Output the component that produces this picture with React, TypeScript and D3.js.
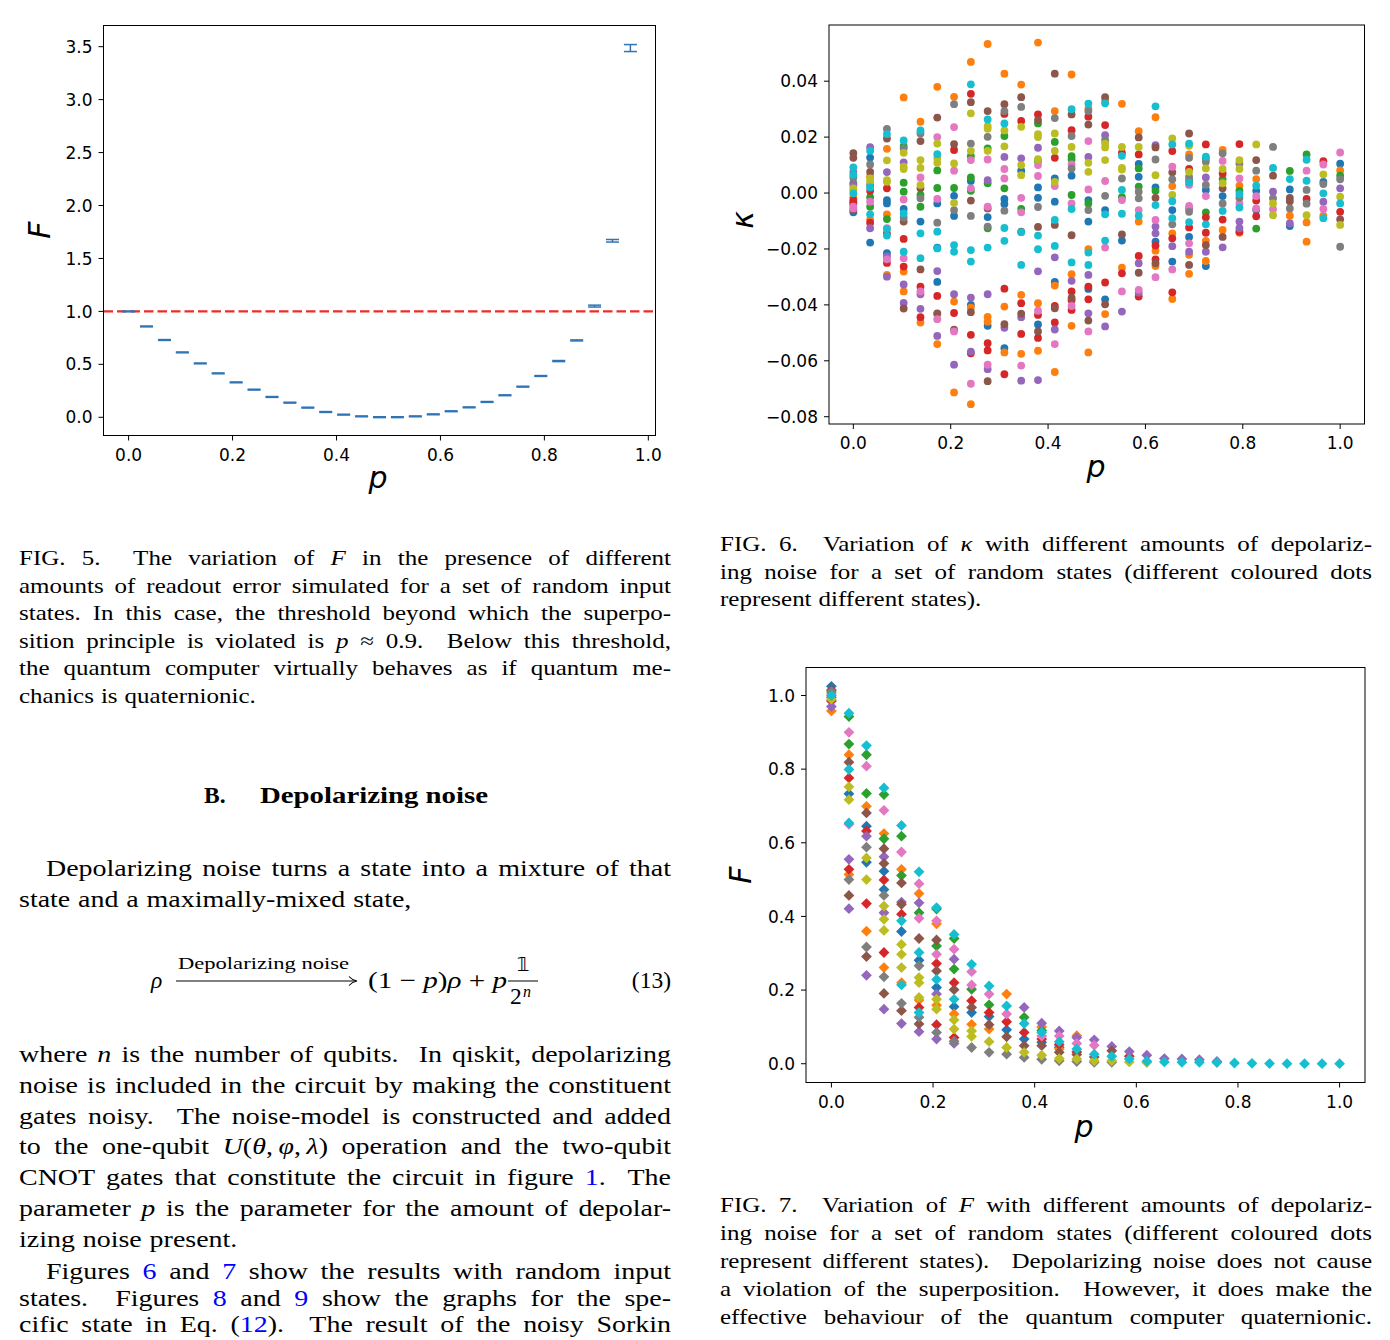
import React, { useMemo } from 'react';
import * as d3 from 'd3';

// ---------- DATA ----------
const P_GRID = [0, 0.0345, 0.069, 0.1034, 0.1379, 0.1724, 0.2069, 0.2414, 0.2759, 0.3103, 0.3448, 0.3793, 0.4138, 0.4483, 0.4828, 0.5172, 0.5517, 0.5862, 0.6207, 0.6552, 0.6897, 0.7241, 0.7586, 0.7931, 0.8276, 0.8621, 0.8966, 0.931, 0.9655, 1.0];

const READOUT_F = [1.0, 0.858, 0.73, 0.613, 0.509, 0.415, 0.33, 0.261, 0.192, 0.138, 0.091, 0.05, 0.025, 0.009, 0.001, 0.001, 0.009, 0.028, 0.057, 0.094, 0.145, 0.208, 0.289, 0.39, 0.531, 0.726, 1.05, 1.667, 3.487];
const READOUT_ERR = [0.004, 0.004, 0.004, 0.004, 0.004, 0.004, 0.004, 0.004, 0.004, 0.004, 0.004, 0.004, 0.004, 0.004, 0.004, 0.004, 0.004, 0.004, 0.004, 0.004, 0.004, 0.004, 0.004, 0.004, 0.005, 0.005, 0.009, 0.012, 0.033];

const X_TICKS = [0, 0.2, 0.4, 0.6, 0.8, 1.0];
const F5_Y_TICKS = [0, 0.5, 1.0, 1.5, 2.0, 2.5, 3.0, 3.5];
const KAPPA_TICKS = [-0.08, -0.06, -0.04, -0.02, 0, 0.02, 0.04];
const F7_Y_TICKS = [0, 0.2, 0.4, 0.6, 0.8, 1.0];

const TAB10: Record<string, string> = {
  b: '#1f77b4', o: '#ff7f0e', g: '#2ca02c', r: '#d62728', p: '#9467bd',
  n: '#8c564b', k: '#e377c2', y: '#7f7f7f', l: '#bcbd22', c: '#17becf',
};
const COLOR_ORDER = 'bogrpnkylc';

type Pt = [string, number];
const KAPPA_COLS: Pt[][] = [
  [['n', .0143], ['n', .0126], ['c', .0092], ['p', .0075], ['c', .0065], ['y', .0055], ['g', .0035], ['p', .0029], ['l', .0017], ['l', .0010], ['c', -.0001], ['o', -.0015], ['r', -.0025], ['r', -.0033], ['b', -.0040], ['k', -.0049], ['k', -.0055], ['n', -.0061], ['b', -.0069]],
  [['p', .0164], ['c', .0151], ['b', .0127], ['y', .0102], ['n', .0076], ['o', .0060], ['l', .0052], ['l', .0040], ['b', .0029], ['c', .0020], ['r', .0008], ['g', -.0015], ['k', -.0031], ['g', -.0049], ['c', -.0076], ['o', -.0095], ['r', -.0106], ['p', -.0126], ['b', -.0177]],
  [['y', .0229], ['c', .0211], ['n', .0195], ['o', .0158], ['l', .0117], ['p', .0075], ['l', .0046], ['l', .0040], ['r', .0017], ['b', -.0025], ['b', -.0037], ['o', -.0076], ['g', -.0093], ['k', -.0126], ['c', -.0128], ['r', -.0144], ['c', -.0152], ['b', -.0215], ['p', -.0227], ['k', -.0237], ['r', -.0250], ['o', -.0293], ['p', -.0299]],
  [['o', .0342], ['c', .0188], ['g', .0168], ['y', .0160], ['l', .0144], ['p', .0110], ['l', .0094], ['l', .0086], ['g', .0037], ['g', .0005], ['k', -.0023], ['b', -.0057], ['c', -.0073], ['y', -.0088], ['n', -.0102], ['r', -.0164], ['c', -.0210], ['k', -.0233], ['r', -.0263], ['o', -.0281], ['p', -.0327], ['o', -.0352], ['p', -.0393], ['n', -.0413]],
  [['o', .0255], ['c', .0224], ['y', .0213], ['n', .0186], ['l', .0118], ['l', .0090], ['k', .0056], ['l', .0029], ['n', .0017], ['y', -.0019], ['g', -.0007], ['g', -.0049], ['b', -.0102], ['c', -.0144], ['c', -.0233], ['n', -.0273], ['r', -.0335], ['k', -.0352], ['p', -.0362], ['p', -.0414], ['r', -.0444], ['o', -.0463]],
  [['o', .0380], ['n', .0270], ['k', .0200], ['l', .0177], ['c', .0139], ['l', .0124], ['l', .0108], ['g', .0081], ['g', .0018], ['k', -.0021], ['b', -.0037], ['y', -.0106], ['c', -.0138], ['b', -.0195], ['c', -.0198], ['p', -.0279], ['b', -.0318], ['r', -.0368], ['n', -.0430], ['o', -.0433], ['k', -.0451], ['p', -.0511], ['o', -.0540]],
  [['o', .0344], ['y', .0318], ['k', .0236], ['n', .0175], ['r', .0154], ['l', .0106], ['k', .0080], ['g', .0018], ['b', -.0010], ['l', -.0035], ['y', -.0061], ['b', -.0082], ['c', -.0186], ['c', -.0210], ['p', -.0362], ['o', -.0388], ['r', -.0429], ['n', -.0489], ['k', -.0495], ['p', -.0614], ['o', -.0713]],
  [['o', .0469], ['c', .0389], ['r', .0355], ['n', .0325], ['l', .0285], ['y', .0177], ['l', .0151], ['g', .0132], ['k', .0118], ['g', .0056], ['b', .0043], ['k', .0017], ['g', .0008], ['n', -.0027], ['y', -.0082], ['c', -.0204], ['c', -.0245], ['p', -.0374], ['b', -.0400], ['o', -.0410], ['n', -.0426], ['r', -.0507], ['p', -.0567], ['r', -.0573], ['k', -.0682], ['o', -.0755]],
  [['o', .0533], ['n', .0293], ['c', .0263], ['l', .0239], ['l', .0230], ['y', .0201], ['g', .0160], ['l', .0151], ['k', .0120], ['p', .0046], ['g', .0035], ['k', -.0049], ['n', -.0055], ['b', -.0086], ['y', -.0120], ['g', -.0126], ['c', -.0195], ['p', -.0362], ['o', -.0443], ['o', -.0460], ['b', -.0475], ['r', -.0537], ['r', -.0563], ['k', -.0614], ['p', -.0630], ['n', -.0673]],
  [['o', .0427], ['n', .0318], ['y', .0293], ['r', .0283], ['c', .0249], ['l', .0224], ['g', .0204], ['l', .0167], ['p', .0129], ['k', .0086], ['k', .0052], ['g', .0017], ['b', -.0021], ['b', -.0039], ['y', -.0063], ['c', -.0125], ['c', -.0171], ['r', -.0342], ['o', -.0406], ['n', -.0469], ['p', -.0482], ['b', -.0555], ['o', -.0570], ['r', -.0648]],
  [['o', .0388], ['n', .0343], ['y', .0308], ['r', .0258], ['l', .0237], ['p', .0124], ['l', .0100], ['b', .0080], ['l', .0064], ['k', -.0017], ['g', -.0057], ['k', -.0069], ['n', -.0138], ['c', -.0140], ['c', -.0257], ['o', -.0364], ['r', -.0394], ['n', -.0431], ['p', -.0444], ['r', -.0504], ['o', -.0575], ['k', -.0617], ['p', -.0671]],
  [['o', .0538], ['r', .0281], ['n', .0261], ['g', .0249], ['l', .0211], ['l', .0200], ['p', .0162], ['l', .0121], ['g', .0115], ['k', .0100], ['k', .0061], ['b', .0020], ['b', -.0017], ['y', -.0050], ['n', -.0121], ['c', -.0152], ['c', -.0201], ['p', -.0280], ['o', -.0394], ['k', -.0421], ['r', -.0436], ['b', -.0470], ['n', -.0495], ['r', -.0518], ['o', -.0564], ['p', -.0669]],
  [['n', .0427], ['o', .0293], ['y', .0268], ['l', .0213], ['g', .0183], ['l', .0151], ['r', .0126], ['b', .0052], ['l', .0040], ['k', .0025], ['b', -.0031], ['c', -.0096], ['n', -.0114], ['c', -.0189], ['p', -.0230], ['b', -.0318], ['o', -.0331], ['r', -.0404], ['n', -.0412], ['r', -.0463], ['p', -.0488], ['k', -.0540], ['o', -.0640]],
  [['o', .0424], ['c', .0300], ['n', .0281], ['r', .0225], ['y', .0204], ['l', .0165], ['g', .0132], ['g', .0120], ['k', .0102], ['y', .0088], ['b', .0062], ['g', -.0007], ['k', -.0037], ['c', -.0057], ['n', -.0151], ['c', -.0248], ['o', -.0290], ['p', -.0314], ['r', -.0352], ['n', -.0375], ['r', -.0383], ['k', -.0404], ['r', -.0418], ['o', -.0475]],
  [['c', .0320], ['o', .0302], ['y', .0293], ['r', .0273], ['n', .0245], ['k', .0186], ['p', .0129], ['l', .0108], ['l', .0076], ['k', .0013], ['b', -.0025], ['g', -.0037], ['y', -.0061], ['b', -.0102], ['o', -.0201], ['c', -.0213], ['c', -.0257], ['p', -.0293], ['r', -.0335], ['b', -.0343], ['r', -.0380], ['p', -.0430], ['n', -.0456], ['k', -.0495], ['o', -.0570]],
  [['n', .0343], ['o', .0329], ['c', .0321], ['r', .0243], ['p', .0207], ['y', .0189], ['l', .0177], ['l', .0163], ['l', .0118], ['k', .0043], ['y', -.0010], ['b', -.0061], ['c', -.0076], ['c', -.0170], ['k', -.0195], ['r', -.0320], ['b', -.0380], ['n', -.0398], ['o', -.0433], ['p', -.0477]],
  [['o', .0319], ['l', .0165], ['r', .0144], ['c', .0133], ['l', .0090], ['l', .0084], ['y', .0052], ['c', .0011], ['g', -.0015], ['k', -.0025], ['c', -.0074], ['n', -.0148], ['b', -.0170], ['o', -.0267], ['r', -.0287], ['k', -.0352], ['p', -.0424]],
  [['o', .0221], ['n', .0199], ['l', .0165], ['r', .0138], ['b', .0104], ['g', .0088], ['b', .0058], ['g', .0023], ['y', .0005], ['y', -.0019], ['k', -.0061], ['c', -.0081], ['o', -.0102], ['r', -.0225], ['p', -.0251], ['n', -.0285], ['k', -.0346], ['p', -.0356], ['r', -.0370]],
  [['c', .0310], ['o', .0271], ['p', .0171], ['n', .0163], ['y', .0120], ['l', .0064], ['b', .0020], ['g', .0008], ['n', -.0017], ['c', -.0043], ['k', -.0096], ['p', -.0120], ['p', -.0144], ['b', -.0174], ['r', -.0188], ['o', -.0206], ['r', -.0237], ['n', -.0251], ['o', -.0261], ['k', -.0301]],
  [['l', .0195], ['c', .0174], ['r', .0150], ['k', .0094], ['n', .0074], ['y', .0049], ['o', .0025], ['l', -.0007], ['c', -.0029], ['b', -.0061], ['c', -.0090], ['y', -.0112], ['o', -.0144], ['r', -.0162], ['p', -.0190], ['b', -.0245], ['k', -.0273], ['r', -.0355], ['o', -.0379]],
  [['n', .0213], ['c', .0177], ['l', .0169], ['o', .0138], ['y', .0126], ['r', .0086], ['l', .0076], ['y', .0058], ['g', .0046], ['c', .0037], ['k', .0029], ['k', -.0046], ['p', -.0055], ['y', -.0067], ['c', -.0104], ['r', -.0123], ['b', -.0157], ['k', -.0180], ['p', -.0210], ['o', -.0221], ['n', -.0257], ['o', -.0289]],
  [['r', .0174], ['c', .0130], ['g', .0124], ['y', .0112], ['l', .0088], ['p', .0056], ['y', .0029], ['b', .0011], ['k', -.0011], ['g', -.0069], ['r', -.0087], ['c', -.0112], ['r', -.0142], ['o', -.0171], ['n', -.0186], ['p', -.0210], ['o', -.0243], ['b', -.0261]],
  [['o', .0154], ['y', .0142], ['k', .0115], ['l', .0086], ['r', .0070], ['g', .0050], ['l', .0035], ['n', .0017], ['b', -.0011], ['y', -.0037], ['c', -.0064], ['r', -.0095], ['o', -.0132], ['n', -.0157], ['p', -.0194]],
  [['r', .0175], ['l', .0118], ['y', .0106], ['l', .0086], ['k', .0052], ['o', .0026], ['g', .0008], ['c', -.0004], ['y', -.0017], ['k', -.0037], ['c', -.0052], ['p', -.0102], ['p', -.0126], ['r', -.0138], ['o', -.0142]],
  [['l', .0174], ['n', .0118], ['y', .0080], ['o', .0050], ['c', .0026], ['b', .0008], ['k', -.0011], ['r', -.0027], ['k', -.0055], ['b', -.0060], ['r', -.0083], ['g', -.0127]],
  [['y', .0165], ['c', .0090], ['n', .0062], ['p', .0005], ['y', -.0019], ['l', -.0037], ['k', -.0058], ['l', -.0079]],
  [['g', .0079], ['c', .0050], ['b', .0013], ['n', -.0017], ['n', -.0029], ['y', -.0055], ['o', -.0081], ['p', -.0108], ['b', -.0118]],
  [['g', .0138], ['c', .0119], ['k', .0080], ['c', .0044], ['y', .0011], ['r', -.0021], ['y', -.0038], ['l', -.0079], ['o', -.0105], ['o', -.0174]],
  [['r', .0114], ['k', .0102], ['l', .0067], ['b', .0040], ['y', .0032], ['c', -.0001], ['p', -.0031], ['k', -.0057], ['o', -.0081], ['c', -.0090]],
  [['k', .0145], ['b', .0105], ['o', .0081], ['g', .0062], ['y', .0049], ['p', .0017], ['l', -.0013], ['c', -.0037], ['r', -.0067], ['n', -.0094], ['l', -.0114], ['y', -.0192]],
];

const F7_COLS: Pt[][] = [
  [['b', 1.025], ['n', 1.015], ['y', 1.010], ['k', 1.005], ['c', 1.000], ['g', .995], ['l', .990], ['r', .985], ['p', .970], ['o', .958]],
  [['c', .952], ['g', .943], ['k', .900], ['g', .868], ['o', .839], ['n', .819], ['c', .799], ['r', .776], ['l', .752], ['b', .733], ['l', .717], ['c', .654], ['k', .650], ['p', .555], ['r', .528], ['o', .514], ['y', .500], ['n', .457], ['p', .421]],
  [['c', .864], ['g', .839], ['k', .808], ['g', .734], ['o', .699], ['n', .681], ['b', .645], ['r', .632], ['p', .618], ['y', .588], ['l', .559], ['b', .547], ['l', .500], ['r', .435], ['o', .360], ['y', .317], ['n', .291], ['p', .240]],
  [['c', .749], ['g', .731], ['k', .688], ['o', .625], ['g', .611], ['n', .584], ['p', .562], ['n', .544], ['b', .523], ['r', .499], ['b', .473], ['y', .457], ['l', .428], ['p', .410], ['l', .392], ['l', .362], ['r', .302], ['o', .261], ['y', .236], ['n', .191], ['p', .148]],
  [['c', .647], ['g', .618], ['k', .575], ['o', .528], ['g', .511], ['n', .491], ['p', .439], ['n', .433], ['r', .406], ['c', .388], ['b', .359], ['l', .324], ['l', .297], ['l', .261], ['o', .220], ['c', .214], ['y', .164], ['n', .144], ['p', .109]],
  [['c', .521], ['k', .489], ['o', .462], ['p', .437], ['g', .410], ['k', .395], ['n', .340], ['c', .302], ['b', .281], ['y', .266], ['l', .234], ['l', .220], ['l', .180], ['o', .173], ['r', .153], ['c', .139], ['y', .126], ['n', .108], ['p', .087]],
  [['c', .424], ['g', .420], ['k', .388], ['o', .380], ['n', .336], ['g', .320], ['k', .297], ['r', .272], ['n', .252], ['c', .229], ['b', .207], ['p', .189], ['l', .175], ['o', .159], ['l', .148], ['r', .106], ['y', .085], ['p', .067]],
  [['c', .351], ['g', .340], ['k', .311], ['p', .284], ['g', .257], ['r', .220], ['n', .201], ['c', .175], ['b', .155], ['o', .135], ['l', .119], ['l', .094], ['r', .071], ['y', .061], ['p', .055]],
  [['c', .270], ['k', .250], ['k', .214], ['g', .202], ['r', .171], ['n', .153], ['b', .139], ['o', .107], ['l', .089], ['l', .074], ['y', .044]],
  [['c', .211], ['k', .189], ['g', .160], ['r', .139], ['b', .128], ['n', .106], ['o', .094], ['l', .060], ['y', .031]],
  [['o', .189], ['c', .157], ['k', .135], ['r', .114], ['b', .092], ['n', .073], ['l', .044], ['y', .026]],
  [['p', .153], ['g', .126], ['c', .109], ['r', .085], ['b', .067], ['n', .049], ['l', .031], ['y', .017]],
  [['p', .110], ['o', .100], ['g', .090], ['c', .085], ['k', .075], ['r', .067], ['b', .058], ['n', .049], ['l', .023], ['y', .012]],
  [['p', .089], ['k', .075], ['c', .060], ['r', .052], ['b', .045], ['o', .040], ['n', .031], ['l', .014], ['y', .008]],
  [['o', .076], ['p', .071], ['k', .055], ['c', .040], ['r', .032], ['n', .025], ['l', .013], ['y', .006]],
  [['p', .065], ['k', .050], ['c', .026], ['n', .018], ['l', .008], ['y', .004]],
  [['p', .047], ['n', .035], ['c', .020], ['l', .008], ['y', .004]],
  [['p', .033], ['r', .020], ['c', .013], ['l', .005]],
  [['p', .023], ['c', .007], ['l', .003]],
  [['p', .014], ['c', .005]],
  [['p', .013], ['c', .004]],
  [['p', .011], ['c', .004]],
  [['p', .006], ['c', .003]],
  [['c', .002]],
  [['c', .001]],
  [['c', .0005]],
  [['c', 0]],
  [['c', 0]],
  [['c', 0]],
  [['c', 0]],
];

// ---------- TEXT ----------
type Seg = [string, string?];
const FIG5_CAPTION: Seg[][] = [
  [['FIG. 5.  The variation of '], ['F', 'i'], [' in the presence of different']],
  [['amounts of readout error simulated for a set of random input']],
  [['states. In this case, the threshold beyond which the superpo-']],
  [['sition principle is violated is '], ['p', 'i'], [' ≈ 0.9.  Below this threshold,']],
  [['the quantum computer virtually behaves as if quantum me-']],
  [['chanics is quaternionic.']],
];
const FIG6_CAPTION: Seg[][] = [
  [['FIG. 6.  Variation of '], ['κ', 'i'], [' with different amounts of depolariz-']],
  [['ing noise for a set of random states (different coloured dots']],
  [['represent different states).']],
];
const FIG7_CAPTION: Seg[][] = [
  [['FIG. 7.  Variation of '], ['F', 'i'], [' with different amounts of depolariz-']],
  [['ing noise for a set of random states (different coloured dots']],
  [['represent different states).  Depolarizing noise does not cause']],
  [['a violation of the superposition.  However, it does make the']],
  [['effective behaviour of the quantum computer quaternionic.']],
];
const PARA1: Seg[][] = [
  [['Depolarizing noise turns a state into a mixture of that']],
  [['state and a maximally-mixed state,']],
];
const PARA2: Seg[][] = [
  [['where '], ['n', 'i'], [' is the number of qubits.  In qiskit, depolarizing']],
  [['noise is included in the circuit by making the constituent']],
  [['gates noisy.  The noise-model is constructed and added']],
  [['to the one-qubit '], ['U', 'i'], ['('], ['θ', 'i'], [',\u2009'], ['φ', 'i'], [',\u2009'], ['λ', 'i'], [') operation and the two-qubit']],
  [['CNOT gates that constitute the circuit in figure '], ['1', 'l'], ['.  The']],
  [['parameter '], ['p', 'i'], [' is the parameter for the amount of depolar-']],
  [['izing noise present.']],
];
const PARA3: Seg[][] = [
  [['Figures '], ['6', 'l'], [' and '], ['7', 'l'], [' show the results with random input']],
  [['states.  Figures '], ['8', 'l'], [' and '], ['9', 'l'], [' show the graphs for the spe-']],
  [['cific state in Eq. ('], ['12', 'l'], [').  The result of the noisy Sorkin']],
];

// ---------- HELPERS ----------
const SERIF = "'Liberation Serif', 'DejaVu Serif', serif";
const SANS = "'DejaVu Sans', sans-serif";
const STRETCH = 1.19; // widen Times-like glyphs toward Computer Modern metrics
let _ctx: CanvasRenderingContext2D | null = null;
function measure(text: string, font: string) {
  if (!_ctx) _ctx = document.createElement('canvas').getContext('2d');
  _ctx!.font = font;
  return _ctx!.measureText(text).width;
}
function fontOf(style: string | undefined, size: number) {
  return `${style === 'i' ? 'italic ' : ''}${style === 'b' ? 'bold ' : ''}${size}px ${SERIF}`;
}

function TextLine({ segs, x, y, width, size, justify }: { segs: Seg[]; x: number; y: number; width: number; size: number; justify: boolean }) {
  const pieces: { t: string; s?: string; gap: number; w: number; x: number }[] = [];
  let pending = 0;
  segs.forEach(([t, s]) => {
    const parts = t.split(' ');
    parts.forEach((part, idx) => {
      if (idx > 0) pending += 1;
      if (part === '') return;
      pieces.push({ t: part, s, gap: pieces.length ? pending : 0, w: measure(part, fontOf(s, size)) * STRETCH, x: 0 });
      pending = 0;
    });
  });
  const spaceW = 0.333 * size;
  const nGaps = pieces.reduce((a, p) => a + p.gap, 0);
  const natural = pieces.reduce((a, p) => a + p.w + p.gap * spaceW, 0);
  const extra = justify && nGaps > 0 ? (width - natural) / nGaps : 0;
  let cx = x;
  pieces.forEach((p) => {
    cx += p.gap * (spaceW + extra);
    p.x = cx;
    cx += p.w;
  });
  return (
    <g>
      {pieces.map((p, i) => (
        <text key={i} x={p.x} y={y} fontSize={size} fontFamily={SERIF}
          fontStyle={p.s === 'i' ? 'italic' : 'normal'} fontWeight={p.s === 'b' ? 'bold' : 'normal'}
          textLength={p.w} lengthAdjust="spacingAndGlyphs"
          fill={p.s === 'l' ? '#0000ff' : '#000'}>{p.t}</text>
      ))}
    </g>
  );
}

function Paragraph({ lines, x, width, y0, step, size, indent = 0, lastJustify = false }: any) {
  return (
    <g>
      {lines.map((segs: Seg[], i: number) => (
        <TextLine key={i} segs={segs} x={x + (i === 0 ? indent : 0)} y={y0 + i * step}
          width={width - (i === 0 ? indent : 0)} size={size}
          justify={i < lines.length - 1 || lastJustify} />
      ))}
    </g>
  );
}

const TICK_FS = 17;
const LABEL_FS = 30;

function Axes({ xs, ys, xTicks, yTicks, xFmt, yFmt, xLabel, yLabel, xLabelPos, yLabelPos }: any) {
  const [x0, x1] = xs.range();
  const [y1, y0] = ys.range();
  return (
    <g>
      <rect x={x0} y={y0} width={x1 - x0} height={y1 - y0} fill="none" stroke="#000" strokeWidth={1} />
      {xTicks.map((t: number) => (
        <g key={'x' + t}>
          <line x1={xs(t)} x2={xs(t)} y1={y1} y2={y1 + 5} stroke="#000" strokeWidth={1} />
          <text x={xs(t)} y={y1 + 25} fontSize={TICK_FS} fontFamily={SANS} textAnchor="middle" fill="#000">{xFmt(t)}</text>
        </g>
      ))}
      {yTicks.map((t: number) => (
        <g key={'y' + t}>
          <line x1={x0 - 5} x2={x0} y1={ys(t)} y2={ys(t)} stroke="#000" strokeWidth={1} />
          <text x={x0 - 11} y={ys(t)} dy="0.36em" fontSize={TICK_FS} fontFamily={SANS} textAnchor="end" fill="#000">{yFmt(t)}</text>
        </g>
      ))}
      <text x={xLabelPos[0]} y={xLabelPos[1]} fontSize={LABEL_FS} fontFamily={SANS} fontStyle="italic" textAnchor="middle">{xLabel}</text>
      <text transform={`translate(${yLabelPos[0]},${yLabelPos[1]}) rotate(-90)`} fontSize={LABEL_FS} fontFamily={SANS} fontStyle="italic" textAnchor="middle">{yLabel}</text>
    </g>
  );
}

const fmt1 = (t: number) => t.toFixed(1);
const fmtK = (t: number) => (t < -1e-9 ? '−' : '') + Math.abs(t).toFixed(2);

function Fig5() {
  const xs = d3.scaleLinear().domain([-0.0483, 1.0138]).range([103.5, 655.5]);
  const ys = d3.scaleLinear().domain([-0.172, 3.7]).range([435.5, 25.5]);
  return (
    <g>
      <line x1={103.5} x2={655.5} y1={ys(1)} y2={ys(1)} stroke="#ee2c27" strokeWidth={2.2} strokeDasharray="9.5 4" />
      {READOUT_F.map((f, i) => {
        const x = xs(P_GRID[i]);
        const e = READOUT_ERR[i];
        const yt = ys(f + e), yb = ys(f - e);
        return (
          <g key={i} stroke="#2f74b5" strokeWidth={1.5}>
            <line x1={x} x2={x} y1={yt} y2={yb} />
            <line x1={x - 6.5} x2={x + 6.5} y1={yt} y2={yt} />
            <line x1={x - 6.5} x2={x + 6.5} y1={yb} y2={yb} />
          </g>
        );
      })}
      <Axes xs={xs} ys={ys} xTicks={X_TICKS} yTicks={F5_Y_TICKS} xFmt={fmt1} yFmt={fmt1}
        xLabel="p" yLabel="F" xLabelPos={[378, 488]} yLabelPos={[50, 230]} />
    </g>
  );
}

function flatten(cols: Pt[][]) {
  const pts: { x: number; v: number; c: string }[] = [];
  cols.forEach((col, i) => col.forEach(([c, v]) => pts.push({ x: P_GRID[i], v, c })));
  pts.sort((a, b) => COLOR_ORDER.indexOf(a.c) - COLOR_ORDER.indexOf(b.c));
  return pts;
}

function Fig6() {
  const xs = d3.scaleLinear().domain([-0.05, 1.05]).range([829, 1364.5]);
  const ys = d3.scaleLinear().domain([-0.0826, 0.0601]).range([424, 25]);
  const pts = useMemo(() => flatten(KAPPA_COLS), []);
  return (
    <g>
      {pts.map((p, i) => (
        <circle key={i} cx={xs(p.x)} cy={ys(p.v)} r={3.9} fill={TAB10[p.c]} />
      ))}
      <Axes xs={xs} ys={ys} xTicks={X_TICKS} yTicks={KAPPA_TICKS} xFmt={fmt1} yFmt={fmtK}
        xLabel="p" yLabel="κ" xLabelPos={[1096, 477]} yLabelPos={[753, 220]} />
    </g>
  );
}

function Fig7() {
  const xs = d3.scaleLinear().domain([-0.05, 1.05]).range([806, 1365]);
  const ys = d3.scaleLinear().domain([-0.051, 1.076]).range([1082.5, 667.5]);
  const pts = useMemo(() => flatten(F7_COLS), []);
  const h = 5.4;
  return (
    <g>
      {pts.map((p, i) => {
        const cx = xs(p.x), cy = ys(p.v);
        return <path key={i} d={`M${cx},${cy - h}L${cx + h},${cy}L${cx},${cy + h}L${cx - h},${cy}Z`} fill={TAB10[p.c]} />;
      })}
      <Axes xs={xs} ys={ys} xTicks={X_TICKS} yTicks={F7_Y_TICKS} xFmt={fmt1} yFmt={fmt1}
        xLabel="p" yLabel="F" xLabelPos={[1084, 1137]} yLabelPos={[751, 875]} />
    </g>
  );
}

function Equation() {
  const s = 23.5;
  return (
    <g fontFamily={SERIF} fill="#000">
      <text x={151} y={988} fontSize={s} fontStyle="italic">ρ</text>
      <text x={178} y={969} fontSize={17} textLength={171} lengthAdjust="spacingAndGlyphs">Depolarizing noise</text>
      <line x1={176} x2={356} y1={981} y2={981} stroke="#000" strokeWidth={1.1} />
      <path d="M349,976.5 Q352,980 357,981 Q352,982 349,985.5" fill="none" stroke="#000" strokeWidth={1.1} />
      <text x={368} y={988} fontSize={s} textLength={139} lengthAdjust="spacingAndGlyphs">
        <tspan>(1 − </tspan><tspan fontStyle="italic">p</tspan><tspan>)</tspan><tspan fontStyle="italic">ρ</tspan><tspan> + </tspan><tspan fontStyle="italic">p</tspan>
      </text>
      <text x={523} y={971} fontSize={20} textAnchor="middle" fontFamily="'DejaVu Sans', sans-serif">𝟙</text>
      <line x1={508} x2={538} y1={981} y2={981} stroke="#000" strokeWidth={1} />
      <text x={510} y={1004} fontSize={s}>2</text>
      <text x={523} y={997} fontSize={16} fontStyle="italic">n</text>
      <text x={671} y={988} fontSize={s} textAnchor="end">(13)</text>
    </g>
  );
}

export default function App() {
  const CAP = 21;
  const BODY = 23.5;
  return (
    <svg width={1390} height={1340} style={{ position: 'absolute', left: 0, top: 0, background: '#fff' }}>
      <rect width={1390} height={1340} fill="#fff" />
      <Fig5 />
      <Fig6 />
      <Fig7 />
      <Paragraph lines={FIG5_CAPTION} x={19} width={652} y0={565} step={27.6} size={CAP} />
      <Paragraph lines={FIG6_CAPTION} x={720} width={652} y0={551} step={27.6} size={CAP} />
      <Paragraph lines={FIG7_CAPTION} x={720} width={652} y0={1212} step={28} size={CAP} lastJustify />
      <g fontFamily={SERIF} fontWeight="bold" fontSize={BODY}>
        <text x={204} y={803}>B.</text>
        <text x={260} y={803} textLength={228} lengthAdjust="spacingAndGlyphs">Depolarizing noise</text>
      </g>
      <Paragraph lines={PARA1} x={19} width={652} y0={876} step={30.7} size={BODY} indent={27} />
      <Equation />
      <Paragraph lines={PARA2} x={19} width={652} y0={1062} step={30.75} size={BODY} />
      <Paragraph lines={PARA3} x={19} width={652} y0={1279} step={26.5} size={BODY} indent={27} lastJustify />
    </svg>
  );
}
